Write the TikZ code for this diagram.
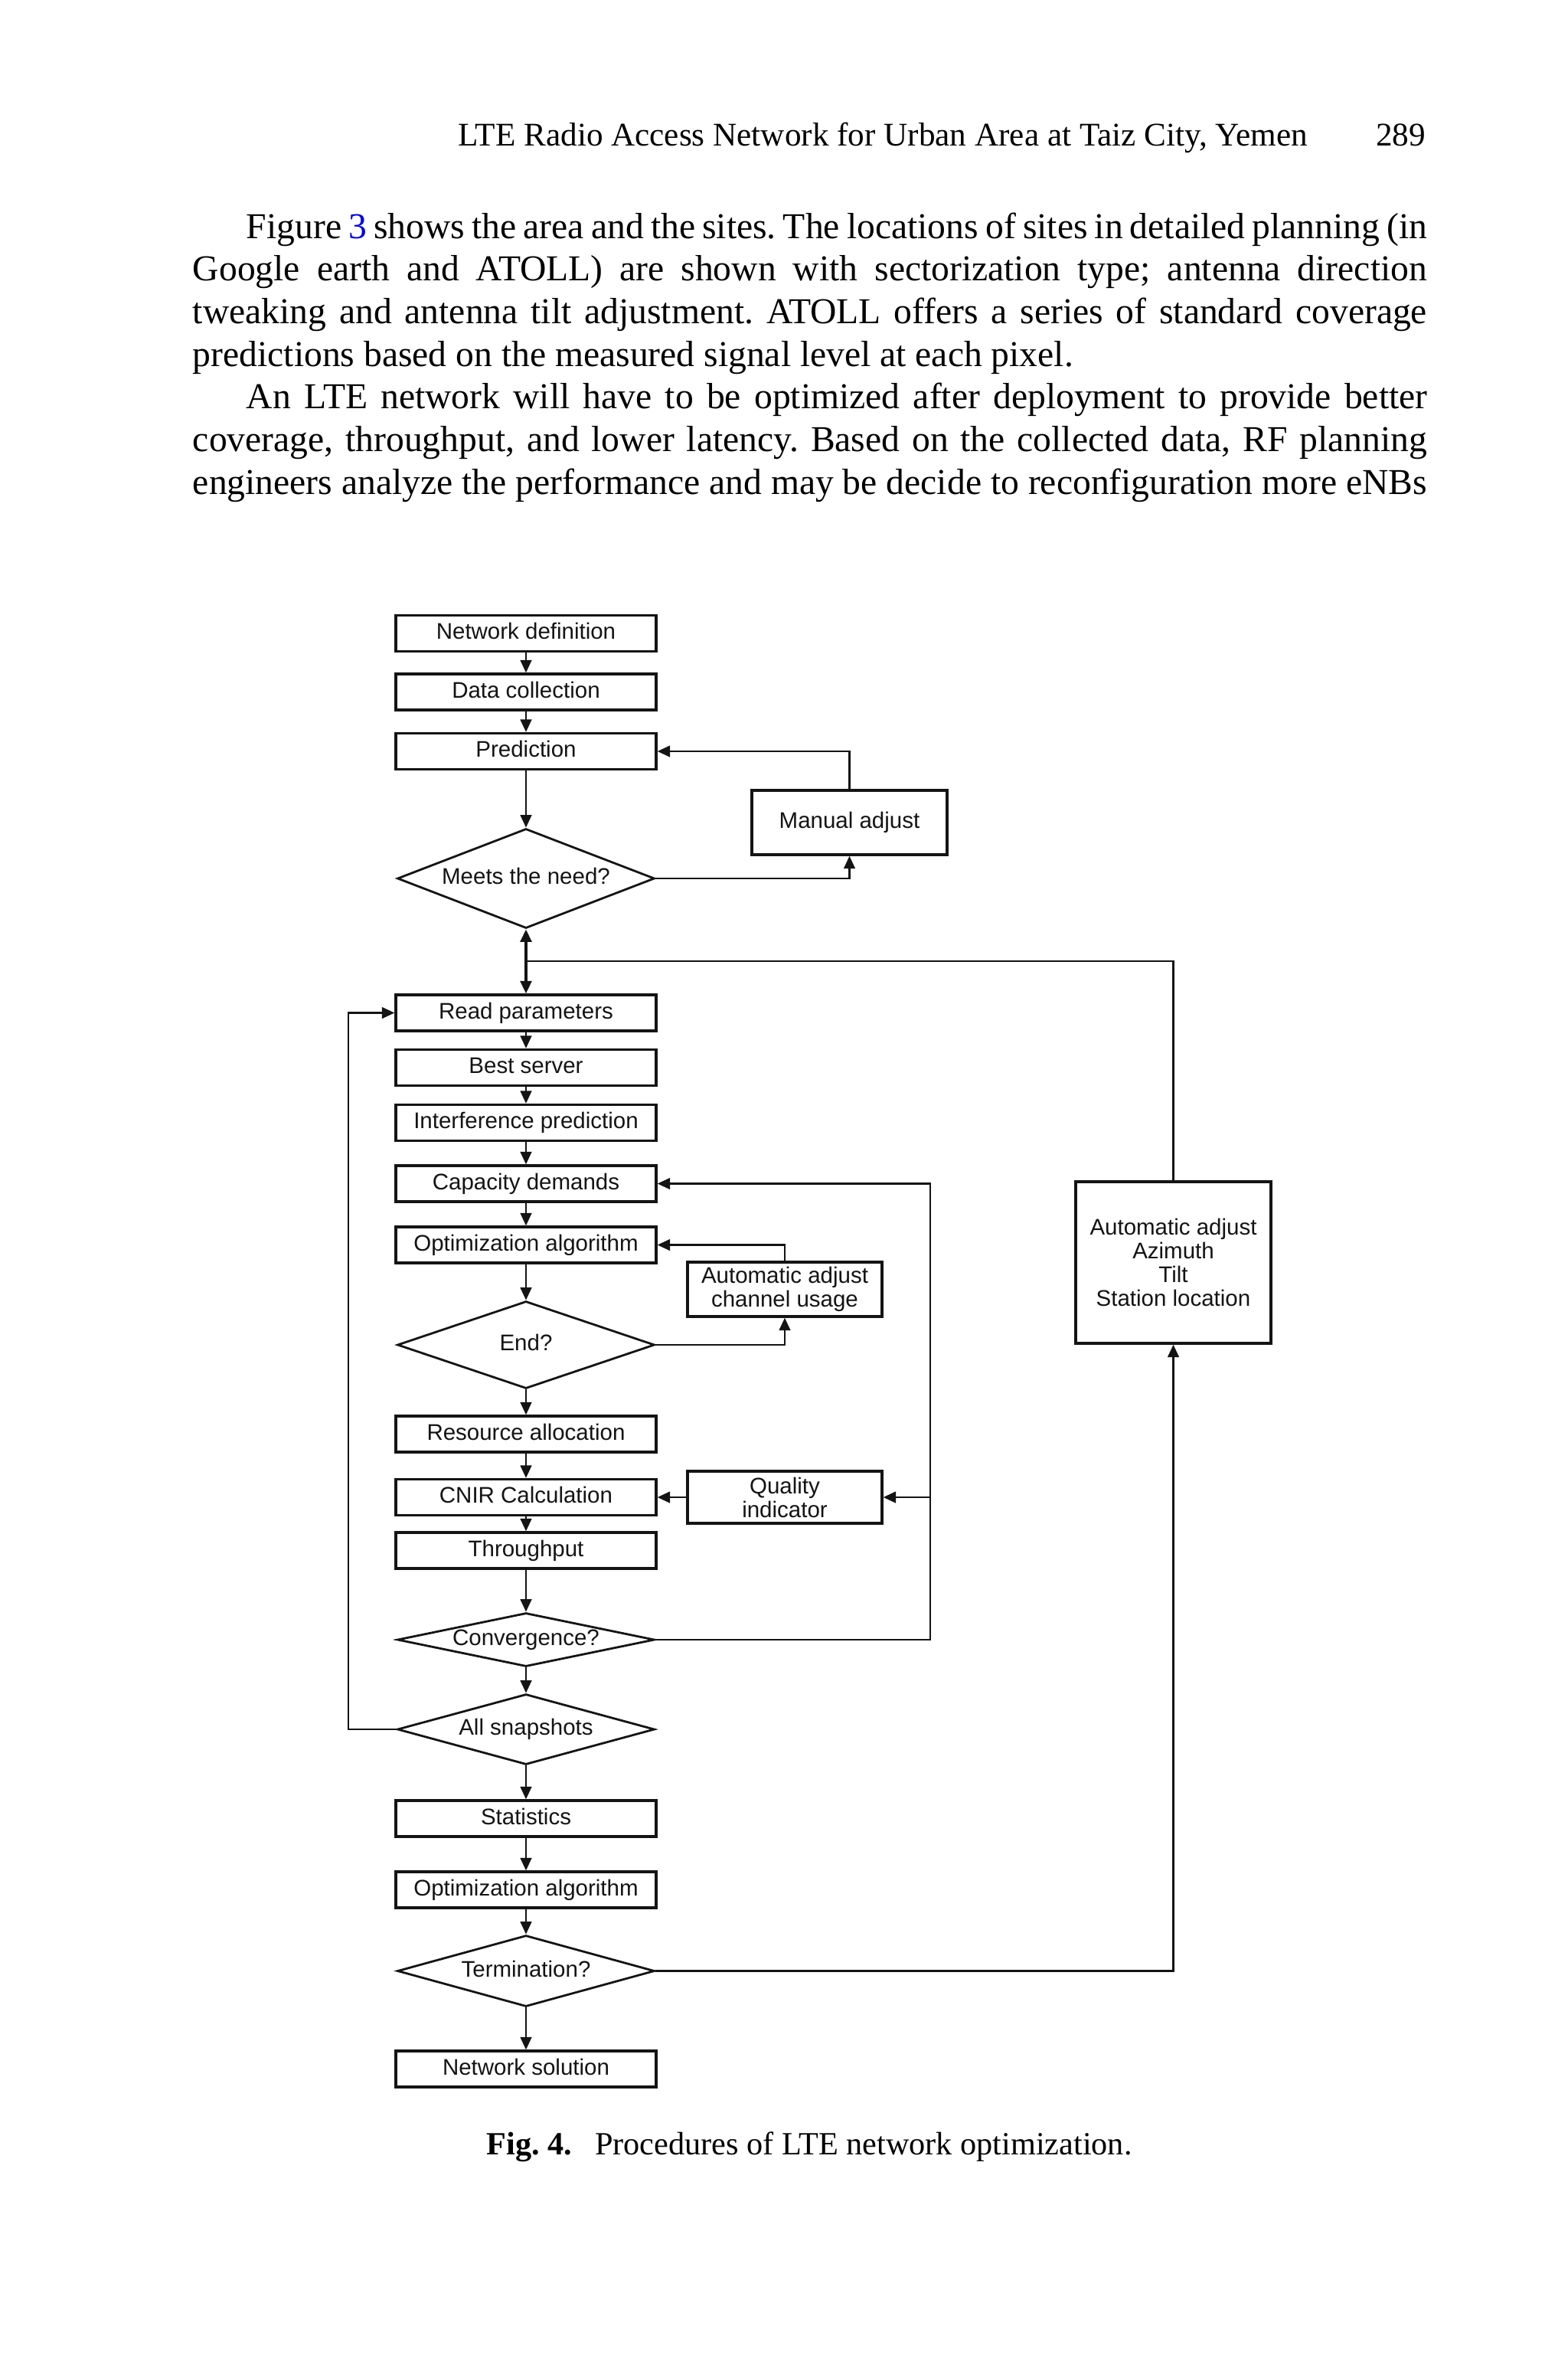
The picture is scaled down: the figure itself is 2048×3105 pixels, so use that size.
\documentclass[tikz,border=0pt]{standalone}
\usepackage{fontspec}
\setmainfont{Liberation Serif}
\newfontfamily\figfont{Liberation Sans}
\usetikzlibrary{shapes.geometric,arrows.meta}
\def\pxu{0.07568mm}
\definecolor{linkblue}{RGB}{0,0,235}
\colorlet{figink}{black!92}
\newcommand\dtext[1]{\smash{\raisebox{-1.7pt}{#1}}}
\frenchspacing
\tikzset{
  figtext/.style={font=\figfont\fontsize{6.35}{6.7}\selectfont, text=figink},
  fbox/.style={figtext, draw=figink, line width=0.7pt, inner sep=0pt,
    minimum width={340*\pxu}, minimum height={47*\pxu}, text height=4.6pt, text depth=1.3pt},
  sbox/.style={figtext, draw=figink, line width=0.7pt, inner sep=0pt, align=center},
  dia/.style={figtext, diamond, aspect=6, draw=figink, line width=0.6pt, inner sep=0pt,
    minimum width={336*\pxu}},
  conn/.style={draw=figink, line width=0.6pt},
  arr/.style={conn, -{Triangle[length=1.25mm,width=1.1mm]}},
  bodyline/.style={anchor=base west, inner sep=0pt, font=\fontsize{10.25}{12}\selectfont},
  headline/.style={anchor=base east, inner sep=0pt, font=\fontsize{9.3}{11}\selectfont},
}
\begin{document}
\begin{tikzpicture}[x=0.07568mm, y=-0.07568mm]
\useasboundingbox (0,0) rectangle (2048,3105);
\fill[white] (0,0) rectangle (2048,3105);

% running head
\node[headline] (hd) at (1709,190) {LTE Radio Access Network for Urban Area at Taiz City, Yemen};
\node[headline] (pg) at (1863,190) {289};

% body text
\node[bodyline] (l1) at (321,311) {\makebox[\dimexpr122mm-15pt\relax][s]{Figure \textcolor{linkblue}{3} shows the area and the sites. The locations of sites in detailed planning (in}};
\node[bodyline] (l2) at (251,366.7) {\makebox[122mm][s]{Google earth and ATOLL) are shown with sectorization type; antenna direction}};
\node[bodyline] (l3) at (251,422.4) {\makebox[122mm][s]{tweaking and antenna tilt adjustment. ATOLL offers a series of standard coverage}};
\node[bodyline] (l4) at (251,478.1) {predictions based on the measured signal level at each pixel.};
\node[bodyline] (l5) at (321,533.8) {\makebox[\dimexpr122mm-15pt\relax][s]{An LTE network will have to be optimized after deployment to provide better}};
\node[bodyline] (l6) at (251,589.5) {\makebox[122mm][s]{coverage, throughput, and lower latency. Based on the collected data, RF planning}};
\node[bodyline] (l7) at (251,645.2) {\makebox[122mm][s]{engineers analyze the performance and may be decide to reconfiguration more eNBs}};

% flowchart nodes
\node[fbox] (nd) at (687,827) {Network definition};
\node[fbox] (dc) at (687,903.5) {Data collection};
\node[fbox] (pr) at (687,981) {Prediction};
\node[sbox, minimum width={255*\pxu}, minimum height={84*\pxu}] (ma) at (1109.5,1074) {Manual adjust};
\node[dia, minimum height={130*\pxu}] (mn) at (687,1147) {\dtext{Meets the need?}};
\coordinate (jn) at (687,1255);
\node[fbox] (rp) at (687,1322.5) {Read parameters};
\node[fbox] (bs) at (687,1394) {Best server};
\node[fbox] (ip) at (687,1466) {Interference prediction};
\node[fbox] (cd) at (687,1545.5) {Capacity demands};
\node[fbox] (oa) at (687,1625.5) {Optimization algorithm};
\node[sbox, minimum width={254*\pxu}, minimum height={71*\pxu}] (ac) at (1025,1683.5) {Automatic adjust\\channel usage};
\node[dia, minimum height={114*\pxu}] (en) at (687,1756) {\dtext{End?}};
\node[fbox] (ra) at (687,1872.5) {Resource allocation};
\node[fbox] (cn) at (687,1955) {CNIR Calculation};
\node[sbox, minimum width={254*\pxu}, minimum height={68*\pxu}] (qi) at (1025,1955) {Quality\\indicator};
\node[fbox] (tp) at (687,2024.5) {Throughput};
\node[dia, minimum height={70*\pxu}] (cv) at (687,2141) {\dtext{Convergence?}};
\node[dia, minimum height={92*\pxu}] (as) at (687,2258) {\dtext{All snapshots}};
\node[fbox] (st) at (687,2374.5) {Statistics};
\node[fbox] (o2) at (687,2467.5) {Optimization algorithm};
\node[dia, minimum height={93*\pxu}] (te) at (687,2573.5) {\dtext{Termination?}};
\node[fbox] (ns) at (687,2701.5) {Network solution};
\node[sbox, minimum width={255*\pxu}, minimum height={211*\pxu}] (az) at (1532.5,1648.5) {Automatic adjust\\Azimuth\\Tilt\\Station location};

\coordinate (rtop) at (1215,1545.5);
\coordinate (rq) at (1215,1955);
\coordinate (ltop) at (455,1322.5);

% connectors
\draw[arr] (nd) -- (dc);
\draw[arr] (dc) -- (pr);
\draw[arr] (pr) -- (mn.north);
\draw[arr] (mn.east) -| (ma.south);
\draw[arr] (ma.north) |- (pr.east);
\draw[conn] (az.north) |- (jn);
\draw[arr, line width=0.8pt] (jn) -- (mn.south);
\draw[arr, line width=0.8pt] (jn) -- (rp.north);
\draw[arr] (rp) -- (bs);
\draw[arr] (bs) -- (ip);
\draw[arr] (ip) -- (cd);
\draw[arr] (cd) -- (oa);
\draw[arr] (oa) -- (en.north);
\draw[arr] (en.east) -| (ac.south);
\draw[arr] (ac.north) |- (oa.east);
\draw[arr] (en.south) -- (ra);
\draw[arr] (ra) -- (cn);
\draw[arr] (qi) -- (cn);
\draw[arr] (cn) -- (tp);
\draw[arr] (tp) -- (cv.north);
\draw[arr] (cv.east) -| (rtop) -- (cd.east);
\draw[arr] (rq) -- (qi.east);
\draw[arr] (cv.south) -- (as.north);
\draw[arr] (as.west) -| (ltop) -- (rp.west);
\draw[arr] (as.south) -- (st);
\draw[arr] (st) -- (o2);
\draw[arr] (o2) -- (te.north);
\draw[arr] (te.south) -- (ns);
\draw[arr] (te.east) -| (az.south);

% caption
\node[anchor=base west, inner sep=0pt, font=\fontsize{9.1}{11}\selectfont] (cap) at (635,2813) {\textbf{Fig. 4.}\hspace{6.4pt}Procedures of LTE network optimization.};
\end{tikzpicture}
\end{document}
